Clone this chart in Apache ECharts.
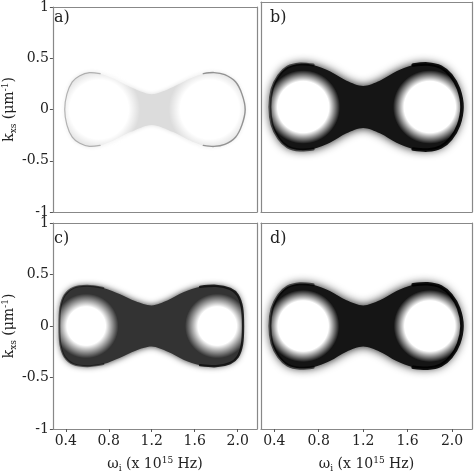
<!DOCTYPE html>
<html><head><meta charset="utf-8">
<script src="https://cdn.jsdelivr.net/npm/echarts@6/dist/echarts.min.js"></script>
<style>html,body{margin:0;padding:0;background:#fff}#c{width:474px;height:474px}</style>
</head><body><div id="c"></div>
<script>
var xTicks = [0.4, 0.8, 1.2, 1.6, 2.0];
var yTicks = [-1, -0.5, 0, 0.5, 1];
var panelLabels = ['a)', 'b)', 'c)', 'd)'];
// upper boundary of the figure-eight (mirrored for lower half): [omega, k]
var aUpper = [[0.39,0],[0.41,0.15],[0.46,0.27],[0.53,0.33],[0.62,0.36],[0.72,0.35],[0.85,0.3],[1.0,0.22],[1.2,0.15],[1.4,0.22],[1.55,0.3],[1.68,0.35],[1.78,0.36],[1.88,0.34],[1.98,0.27],[2.04,0.15],[2.07,0]];
var bUpper = [[0.36,0],[0.38,0.17],[0.44,0.3],[0.52,0.38],[0.63,0.41],[0.75,0.4],[0.9,0.34],[1.05,0.25],[1.2,0.2],[1.35,0.25],[1.5,0.34],[1.65,0.4],[1.78,0.41],[1.9,0.38],[1.99,0.3],[2.06,0.17],[2.09,0]];
var cUpper = [[0.34,0],[0.35,0.18],[0.39,0.3],[0.47,0.37],[0.6,0.39],[0.75,0.37],[0.9,0.31],[1.05,0.24],[1.2,0.2],[1.35,0.25],[1.5,0.33],[1.65,0.38],[1.8,0.39],[1.93,0.36],[2.0,0.3],[2.04,0.18],[2.05,0]];
var dUpper = [[0.36,0],[0.38,0.17],[0.44,0.3],[0.52,0.38],[0.63,0.41],[0.75,0.4],[0.9,0.34],[1.05,0.25],[1.2,0.2],[1.35,0.25],[1.5,0.34],[1.65,0.4],[1.78,0.41],[1.9,0.38],[1.99,0.3],[2.06,0.17],[2.09,0]];
// holes: [center omega, center k, radius omega, radius k]
var aHoles = [[0.71,0,0.4,0.4],[1.74,0,0.4,0.4]];
var bHoles = [[0.66,0,0.35,0.35],[1.8,0,0.35,0.35]];
var cHoles = [[0.59,0,0.3,0.32],[1.81,0,0.3,0.32]];
var dHoles = [[0.66,0,0.35,0.35],[1.8,0,0.35,0.35]];

var panels = [
 {up:aUpper, holes:aHoles, fill:'#dcdcdc', blur:4, edge:'#888', edgeW:1.2, core:0.72},
 {up:bUpper, holes:bHoles, fill:'#151515', blur:10, edge:'#000', edgeW:3, core:0.7},
 {up:cUpper, holes:cHoles, fill:'#333', blur:6, edge:'#111', edgeW:2, core:0.6},
 {up:dUpper, holes:dHoles, fill:'#151515', blur:10, edge:'#000', edgeW:3, core:0.7}
];

function outline(up){
  var pts = up.slice();
  for (var i = up.length - 2; i > 0; i--) pts.push([up[i][0], -up[i][1]]);
  return pts;
}
function ellipsePts(h){
  var p = [];
  for (var i = 0; i < 48; i++){ var t = i/48*2*Math.PI; p.push([h[0]+h[2]*Math.cos(t), h[1]+h[3]*Math.sin(t)]); }
  return p;
}
function makeRender(P){
  return function(params, api){
    var c = function(p){ return api.coord(p); };
    var outer = outline(P.up).map(c);
    var kids = [{type:'polygon', shape:{points:outer, smooth:0.3}, style:{fill:P.fill, shadowBlur:P.blur, shadowColor:P.fill}}];
    P.holes.forEach(function(h){
      kids.push({type:'polygon', shape:{points:ellipsePts(h).map(c)}, style:{fill:{type:'radial',x:0.5,y:0.5,r:0.5,colorStops:[{offset:0,color:'rgba(255,255,255,1)'},{offset:P.core,color:'rgba(255,255,255,1)'},{offset:1,color:'rgba(255,255,255,0)'}]}}});
    });
    var upL = P.up.filter(function(p){return p[0]<0.8;});
    var arcL = upL.slice().reverse().concat(upL.slice(1).map(function(p){return [p[0],-p[1]];}));
    var upR = P.up.filter(function(p){return p[0]>1.6;});
    var arcR = upR.concat(upR.slice(0,-1).reverse().map(function(p){return [p[0],-p[1]];}));
    kids.push({type:'polyline', shape:{points:arcL.map(c), smooth:0.3}, style:{fill:null, stroke:P.edge, lineWidth:P.edgeW, opacity:0.6, lineCap:'round'}});
    kids.push({type:'polyline', shape:{points:arcR.map(c), smooth:0.3}, style:{fill:null, stroke:P.edge, lineWidth:P.edgeW*1.2, opacity:0.9, lineCap:'round'}});
    return {type:'group', children:kids};
  };
}

var grids = [
 {left:45, top:2, width:212, height:210},
 {left:261, top:2, width:211, height:210},
 {left:45, top:223, width:212, height:213},
 {left:261, top:223, width:211, height:213}
];
var font = "DejaVu Serif";
var rich = {a:{fontFamily:font,fontSize:14,color:'#222'},s:{fontFamily:font,fontSize:9,color:'#222',verticalAlign:'bottom',padding:[8,0,0,0]},p:{fontFamily:font,fontSize:9,color:'#222',verticalAlign:'top',padding:[0,0,8,0]}};
var xAxes = [], yAxes = [], series = [], graphics = [];
grids.forEach(function(g, i){
  var bottom = i >= 2;
  xAxes.push({gridIndex:i, type:'value', min:0.28, max:2.18,
    axisLine:{show:true, onZero:false, lineStyle:{color:'#888', width:1.2}},
    axisTick:{show:bottom, length:3, customValues:xTicks, lineStyle:{color:'#555'}},
    axisLabel:{show:bottom, customValues:xTicks, formatter:function(v){return v.toFixed(1);}, fontFamily:font, fontSize:14, color:'#222', margin:5},
    splitLine:{show:false},
    name: bottom ? '{a|ω}{s|i}{a| (x 10}{p|15}{a| Hz)}' : '', nameLocation:'middle', nameGap:27,
    nameTextStyle:{fontFamily:font, rich:rich}
  });
  xAxes.push({gridIndex:i, type:'value', position:'top', min:0.28, max:2.18, axisLine:{show:true, onZero:false, lineStyle:{color:'#888',width:1.2}}, axisTick:{show:false}, axisLabel:{show:false}, splitLine:{show:false}});
  var leftCol = i % 2 === 0;
  yAxes.push({gridIndex:i, type:'value', min:-1, max:1, interval:0.5,
    axisLine:{show:true, onZero:false, lineStyle:{color:'#888', width:1.2}},
    axisTick:{show:leftCol, length:3, lineStyle:{color:'#555'}},
    axisLabel:{show:leftCol, fontFamily:font, fontSize:14, color:'#222', margin:4, formatter:function(v){return String(v);}},
    splitLine:{show:false},
    name: leftCol ? '{a|k}{s|xs}{a| (μm}{p|-1}{a|)}' : '', nameLocation:'middle', nameGap:30, nameRotate:90,
    nameTextStyle:{fontFamily:font, rich:rich}
  });
  yAxes.push({gridIndex:i, type:'value', position:'right', min:-1, max:1, axisLine:{show:true, onZero:false, lineStyle:{color:'#888',width:1.2}}, axisTick:{show:false}, axisLabel:{show:false}, splitLine:{show:false}});
  series.push({type:'custom', xAxisIndex:i*2, yAxisIndex:i*2, clip:true, data:[[0,0]], renderItem:makeRender(panels[i]), silent:true});
  graphics.push({type:'text', left:g.left+9, top:g.top+8, style:{text:panelLabels[i], fontFamily:font, fontSize:16, fill:'#222'}});
});
var chart = echarts.init(document.getElementById('c'));
chart.setOption({animation:false, grid:grids, xAxis:xAxes, yAxis:yAxes, series:series, graphic:graphics});
</script></body></html>
